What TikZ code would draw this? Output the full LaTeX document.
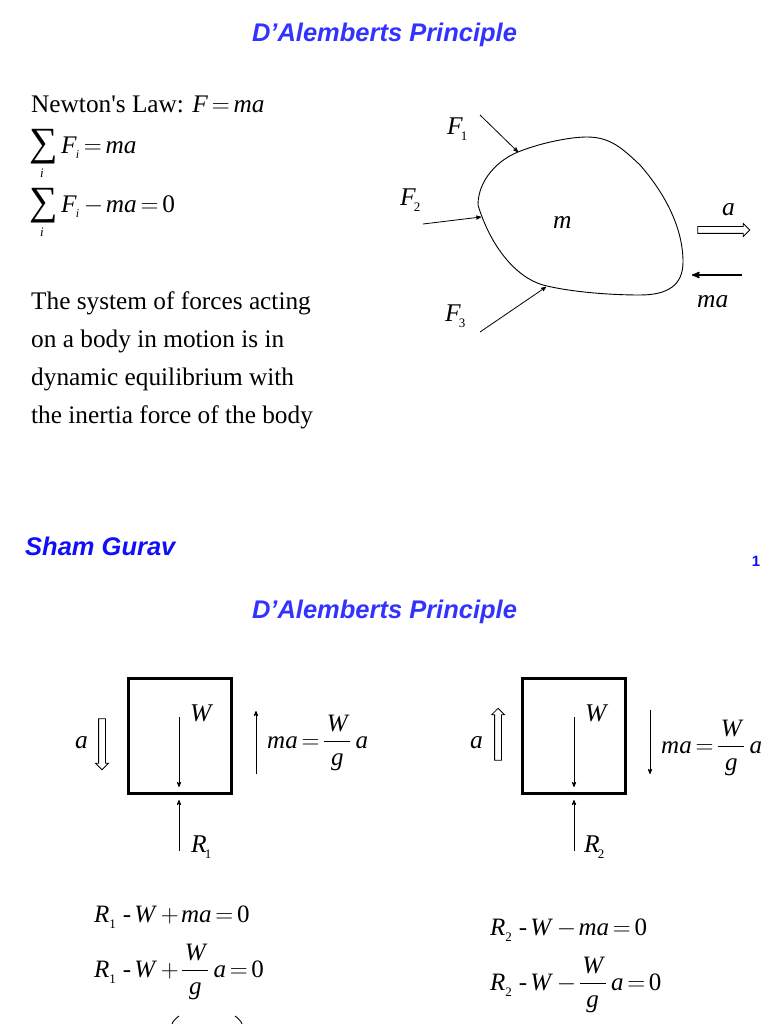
\documentclass[tikz,border=0pt]{standalone}
\usepackage{amsmath}
\usepackage{fontspec}
\setmainfont{Liberation Serif}
\newfontfamily\headfont{Liberation Sans}
\newfontfamily\aposfont{Liberation Serif}
\usetikzlibrary{arrows,%
                shapes.arrows}
\definecolor{headblue}{RGB}{51,51,255}
\definecolor{nameblue}{RGB}{15,15,250}
\newcommand{\wog}{\ensuremath{\dfrac{\hspace{2.5pt}\textit{W}\hspace{2.5pt}}{\rule{0pt}{19pt}\textit{g}}}}
\newcommand{\lowtxt}[1]{\kern-2pt\raisebox{-6pt}{\fontsize{13}{13}\selectfont\upshape #1}\kern1pt}
\newcommand{\lowit}[1]{\kern-1pt\raisebox{-5pt}{\fontsize{12}{12}\selectfont\itshape #1}\kern1pt}
\newcommand{\rsub}[1]{\textit{R}\kern2pt\lowtxt{#1}\kern6pt-\kern3pt}
\newcommand{\opeq}{\hspace{0.15em}$=$\hspace{0.15em}}
\newcommand{\opplus}{\hspace{0.15em}$+$\hspace{0.1em}}
\newcommand{\opminus}{\hspace{0.15em}$-$\hspace{0.1em}}

\begin{document}
\begin{tikzpicture}[x=1pt,y=-1pt]
    \useasboundingbox (0,0) rectangle (768,1024);
    \tikzstyle{Head}=[font=\headfont\bfseries\itshape\fontsize{25.5}{28}\selectfont,text=headblue,anchor=base,inner sep=0pt]
    \tikzstyle{Body}=[font=\fontsize{25.3}{30}\selectfont,anchor=base west,inner sep=0pt]
    \tikzstyle{Sym}=[font=\itshape\fontsize{25.5}{30}\selectfont,anchor=base west,inner sep=0pt]
    \tikzstyle{Eqn}=[font=\fontsize{25}{30}\selectfont,anchor=base west,inner sep=0pt]
    \tikzstyle{Sigma}=[font=\fontsize{40}{40}\selectfont,anchor=center,inner sep=0pt]
    \tikzstyle{Idx}=[font=\itshape\fontsize{13}{13}\selectfont,inner sep=0pt]
    \tikzstyle{Force}=[->,>=stealth',line width=0.8pt]
    \tikzstyle{Block}=[draw,line width=3pt,inner sep=0pt,minimum width=103pt,minimum height=115pt]
    \tikzstyle{Hollow}=[draw,fill=white,single arrow,line width=0.8pt,inner sep=3pt,single arrow head extend=3pt,single arrow head indent=0pt]

    % first slide
    \node[Head] (title1) at (384.5,42) {D’Alemberts Principle};
    \node[Body] (newton) at (31,113) {Newton{\aposfont'}s Law: \textit{F}\opeq\textit{ma}};
    \node[Sigma] (sum1) at (44,147) {∑};
    \node[Idx] (idx1) at (42,173) {i};
    \node[Body] (eqa) at (61,154) {\textit{F}\lowit{i}\opeq\textit{ma}};
    \node[Sigma] (sum2) at (44,206) {∑};
    \node[Idx] (idx2) at (42,232) {i};
    \node[Body] (eqb) at (61,213) {\textit{F}\lowit{i}\opminus\textit{ma}\opeq 0};
    \node[Body] (line1) at (31,309) {The system of forces acting};
    \node[Body] (line2) at (31,347) {on a body in motion is in};
    \node[Body] (line3) at (31,385) {dynamic equilibrium with};
    \node[Body] (line4) at (31,423) {the inertia force of the body};

    \draw[line width=0.9pt] (478,205) .. controls (478,180) and (498,160) .. (518,152)
        .. controls (540,143) and (570,137) .. (587,137)
        .. controls (610,137) and (622,148) .. (640,165)
        .. controls (662,190) and (683,225) .. (683,262)
        .. controls (683,285) and (668,295) .. (640,295)
        .. controls (610,295) and (570,292) .. (543,285)
        .. controls (515,277) and (490,245) .. (478,205) -- cycle;
    \coordinate (hit1) at (518,152);
    \coordinate (hit2) at (481,217);
    \coordinate (hit3) at (546,287);
    \coordinate (tail1) at (480,115);
    \coordinate (tail2) at (423,224);
    \coordinate (tail3) at (480,332);
    \coordinate (tailma) at (742,275);
    \coordinate (tipma) at (692,275);
    \draw[Force] (tail1) -- (hit1);
    \draw[Force] (tail2) -- (hit2);
    \draw[Force] (tail3) -- (hit3);
    \draw[Force,line width=1.6pt] (tailma) -- (tipma);
    \node[Sym] (f1) at (447,135) {F\lowtxt{1}};
    \node[Sym] (f2) at (400,206) {F\lowtxt{2}};
    \node[Sym] (f3) at (445,321) {F\lowtxt{3}};
    \node[Sym] (mass) at (553,229) {m};
    \node[Sym] (acc) at (722,216) {a};
    \node[Sym] (inertia) at (697,307) {ma};
    \node[Hollow,minimum height=52pt] (hollow) at (722,230) {};

    % second slide
    \node[Head] (title2) at (384.5,618) {D’Alemberts Principle};
    \node[Head,text=nameblue,anchor=base west] (author) at (25,555) {Sham Gurav};
    \node[font=\headfont\bfseries\fontsize{15}{15}\selectfont,text=nameblue] (page) at (756,561) {1};

    % left block
    \node[Block] (boxl) at (179.5,736) {};
    \coordinate (wtopl) at (179,717);
    \coordinate (wtipl) at (179,787);
    \coordinate (rtaill) at (179,851);
    \coordinate (rtipl) at (179,800);
    \coordinate (mataill) at (256,774);
    \coordinate (matipl) at (256,711);
    \draw[Force] (wtopl) -- (wtipl);
    \draw[Force] (rtaill) -- (rtipl);
    \draw[Force] (mataill) -- (matipl);
    \node[Sym] (wl) at (190,721) {W};
    \node[Sym] (r1) at (191,852) {R\lowtxt{1}};
    \node[Sym] (al) at (75,748) {a};
    \node[Hollow,minimum height=51pt,shape border rotate=270] (hollowl) at (102,742.5) {};
    \node[Eqn] (mal) at (267,748) {\textit{ma}\opeq\wog\,\textit{a}};
    \node[Eqn] (eq1) at (94,922) {\rsub{1}\textit{W}\opplus\textit{ma}\opeq 0};
    \node[Eqn] (eq2) at (94,977) {\rsub{1}\textit{W}\opplus\wog\,\textit{a}\opeq 0};

    % right block
    \node[Block] (boxr) at (573.5,736) {};
    \coordinate (wtopr) at (574,717);
    \coordinate (wtipr) at (574,787);
    \coordinate (rtailr) at (574,851);
    \coordinate (rtipr) at (574,800);
    \coordinate (matailr) at (650,710);
    \coordinate (matipr) at (650,774);
    \draw[Force] (wtopr) -- (wtipr);
    \draw[Force] (rtailr) -- (rtipr);
    \draw[Force] (matailr) -- (matipr);
    \node[Sym] (wr) at (585,721) {W};
    \node[Sym] (r2) at (584,852) {R\lowtxt{2}};
    \node[Sym] (ar) at (470,748) {a};
    \node[Hollow,minimum height=52pt,shape border rotate=90] (hollowr) at (498,736) {};
    \node[Eqn] (mar) at (661,753) {\textit{ma}\opeq\wog\,\textit{a}};
    \node[Eqn] (eq3) at (490,935) {\rsub{2}\textit{W}\opminus\textit{ma}\opeq 0};
    \node[Eqn] (eq4) at (490,990) {\rsub{2}\textit{W}\opminus\wog\,\textit{a}\opeq 0};

    % cut off brackets at the bottom edge
    \draw[line width=0.9pt] (172,1024) .. controls (173,1021) and (176,1018) .. (179,1016);
    \draw[line width=0.9pt] (242,1024) .. controls (241,1021) and (238,1018) .. (235,1016);
\end{tikzpicture}
\end{document}
